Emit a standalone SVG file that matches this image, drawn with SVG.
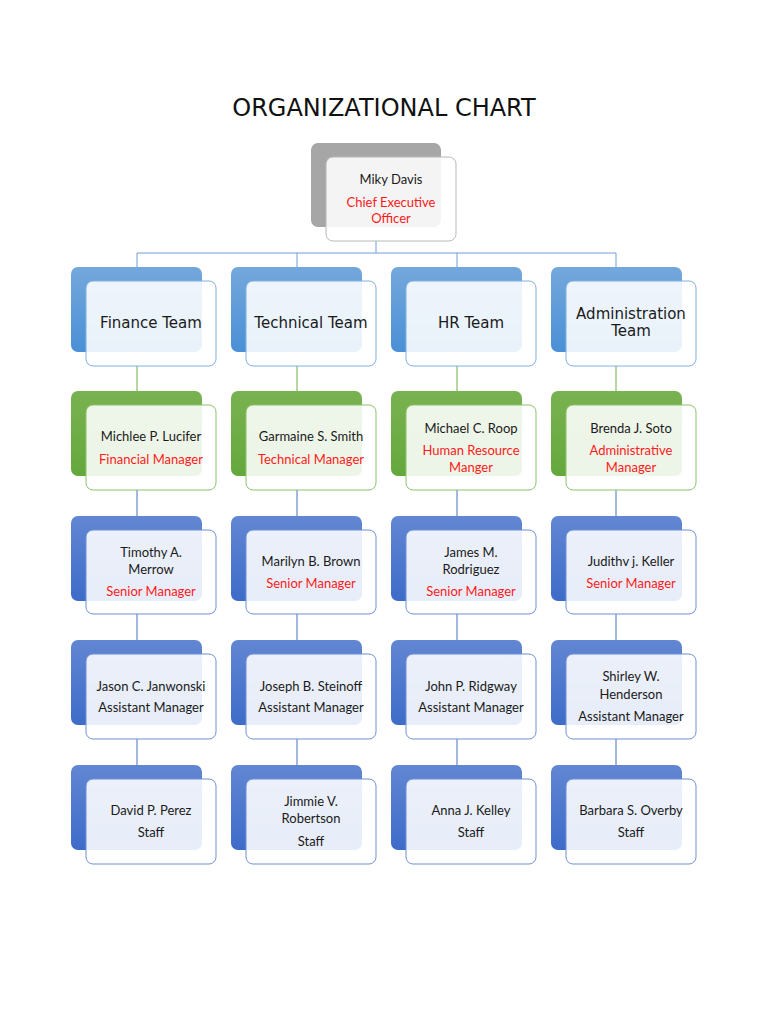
<svg xmlns="http://www.w3.org/2000/svg" width="768" height="1024" viewBox="0 0 768 1024">
<defs>
<linearGradient id="gT" x1="0" y1="0" x2="0" y2="1"><stop offset="0" stop-color="#74a8dc"/><stop offset="1" stop-color="#4a90d6"/></linearGradient>
<linearGradient id="gG" x1="0" y1="0" x2="0" y2="1"><stop offset="0" stop-color="#79b251"/><stop offset="1" stop-color="#64a83c"/></linearGradient>
<linearGradient id="gB" x1="0" y1="0" x2="0" y2="1"><stop offset="0" stop-color="#6286d2"/><stop offset="1" stop-color="#3d6cc9"/></linearGradient>
<style>
.bk{stroke:none}
.fr{fill:#ffffff;fill-opacity:0.88;stroke-width:1}
.t{font-family:Lato,"Liberation Sans",sans-serif;font-size:13px;fill:#1a1a1a;text-anchor:middle}
.r{fill:#ff1a1a}
.h{font-family:"DejaVu Sans",sans-serif;font-size:15px;fill:#1a1a1a;text-anchor:middle}
.c{fill:none;stroke-width:1}
</style>
</defs>
<rect width="768" height="1024" fill="#fff"/>
<text x="384" y="116" font-family="DejaVu Sans,sans-serif" font-size="24" text-anchor="middle" fill="#111">ORGANIZATIONAL CHART</text>
<g id="connectors">
<path class="c" stroke="#6f9fd8" d="M376 241V253M137 253H616M137 253V267M297 253V267M457 253V267M616 253V267"/>
<path class="c" stroke="#70ad47" d="M137 366V391M297 366V391M457 366V391M616 366V391"/>
<path class="c" stroke="#4472c4" d="M137 490V516M297 490V516M457 490V516M616 490V516M137 614V640M297 614V640M457 614V640M616 614V640M137 739V765M297 739V765M457 739V765M616 739V765"/>
</g>
<g id="ceo"><rect class="bk" x="311" y="143" width="130" height="84" rx="7" fill="#a6a6a6"/><rect class="fr" x="326" y="157" width="130" height="84" rx="7" stroke="#b8b8b8"/>
<text class="t" x="391" y="184">Miky Davis</text><text class="t r" x="391" y="207">Chief Executive</text><text class="t r" x="391" y="223">Officer</text></g>
<g id="team1"><rect class="bk" x="71" y="267" width="131" height="85" rx="7" fill="url(#gT)"/><rect class="fr" x="86" y="281" width="130" height="85" rx="7" stroke="#7fb0e0"/><text class="h" x="151" y="328">Finance Team</text></g>
<g id="team2"><rect class="bk" x="231" y="267" width="131" height="85" rx="7" fill="url(#gT)"/><rect class="fr" x="246" y="281" width="130" height="85" rx="7" stroke="#7fb0e0"/><text class="h" x="311" y="328">Technical Team</text></g>
<g id="team3"><rect class="bk" x="391" y="267" width="131" height="85" rx="7" fill="url(#gT)"/><rect class="fr" x="406" y="281" width="130" height="85" rx="7" stroke="#7fb0e0"/><text class="h" x="471" y="328">HR Team</text></g>
<g id="team4"><rect class="bk" x="551" y="267" width="131" height="85" rx="7" fill="url(#gT)"/><rect class="fr" x="566" y="281" width="130" height="85" rx="7" stroke="#7fb0e0"/><text class="h" x="631" y="319">Administration</text><text class="h" x="631" y="336">Team</text></g>
<g id="mgr1"><rect class="bk" x="71" y="391" width="131" height="85" rx="7" fill="url(#gG)"/><rect class="fr" x="86" y="405" width="130" height="85" rx="7" stroke="#8cc26a"/><text class="t" x="151" y="441">Michlee P. Lucifer</text><text class="t r" x="151" y="464">Financial Manager</text></g>
<g id="mgr2"><rect class="bk" x="231" y="391" width="131" height="85" rx="7" fill="url(#gG)"/><rect class="fr" x="246" y="405" width="130" height="85" rx="7" stroke="#8cc26a"/><text class="t" x="311" y="441">Garmaine S. Smith</text><text class="t r" x="311" y="464">Technical Manager</text></g>
<g id="mgr3"><rect class="bk" x="391" y="391" width="131" height="85" rx="7" fill="url(#gG)"/><rect class="fr" x="406" y="405" width="130" height="85" rx="7" stroke="#8cc26a"/><text class="t" x="471" y="433">Michael C. Roop</text><text class="t r" x="471" y="455">Human Resource</text><text class="t r" x="471" y="472">Manger</text></g>
<g id="mgr4"><rect class="bk" x="551" y="391" width="131" height="85" rx="7" fill="url(#gG)"/><rect class="fr" x="566" y="405" width="130" height="85" rx="7" stroke="#8cc26a"/><text class="t" x="631" y="433">Brenda  J. Soto</text><text class="t r" x="631" y="455">Administrative</text><text class="t r" x="631" y="472">Manager</text></g>
<g id="sm1"><rect class="bk" x="71" y="516" width="131" height="85" rx="7" fill="url(#gB)"/><rect class="fr" x="86" y="530" width="130" height="84" rx="7" stroke="#6f90d4"/><text class="t" x="151" y="557">Timothy A.</text><text class="t" x="151" y="574">Merrow</text><text class="t r" x="151" y="596">Senior Manager</text></g>
<g id="sm2"><rect class="bk" x="231" y="516" width="131" height="85" rx="7" fill="url(#gB)"/><rect class="fr" x="246" y="530" width="130" height="84" rx="7" stroke="#6f90d4"/><text class="t" x="311" y="566">Marilyn B. Brown</text><text class="t r" x="311" y="588">Senior Manager</text></g>
<g id="sm3"><rect class="bk" x="391" y="516" width="131" height="85" rx="7" fill="url(#gB)"/><rect class="fr" x="406" y="530" width="130" height="84" rx="7" stroke="#6f90d4"/><text class="t" x="471" y="557">James  M.</text><text class="t" x="471" y="574">Rodriguez</text><text class="t r" x="471" y="596">Senior Manager</text></g>
<g id="sm4"><rect class="bk" x="551" y="516" width="131" height="85" rx="7" fill="url(#gB)"/><rect class="fr" x="566" y="530" width="130" height="84" rx="7" stroke="#6f90d4"/><text class="t" x="631" y="566">Judithv j. Keller</text><text class="t r" x="631" y="588">Senior Manager</text></g>
<g id="am1"><rect class="bk" x="71" y="640" width="131" height="85" rx="7" fill="url(#gB)"/><rect class="fr" x="86" y="654" width="130" height="85" rx="7" stroke="#6f90d4"/><text class="t" x="151" y="691">Jason C. Janwonski</text><text class="t" x="151" y="712">Assistant Manager</text></g>
<g id="am2"><rect class="bk" x="231" y="640" width="131" height="85" rx="7" fill="url(#gB)"/><rect class="fr" x="246" y="654" width="130" height="85" rx="7" stroke="#6f90d4"/><text class="t" x="311" y="691">Joseph B. Steinoff</text><text class="t" x="311" y="712">Assistant Manager</text></g>
<g id="am3"><rect class="bk" x="391" y="640" width="131" height="85" rx="7" fill="url(#gB)"/><rect class="fr" x="406" y="654" width="130" height="85" rx="7" stroke="#6f90d4"/><text class="t" x="471" y="691">John P.  Ridgway</text><text class="t" x="471" y="712">Assistant Manager</text></g>
<g id="am4"><rect class="bk" x="551" y="640" width="131" height="85" rx="7" fill="url(#gB)"/><rect class="fr" x="566" y="654" width="130" height="85" rx="7" stroke="#6f90d4"/><text class="t" x="631" y="681">Shirley W.</text><text class="t" x="631" y="699">Henderson</text><text class="t" x="631" y="721">Assistant Manager</text></g>
<g id="st1"><rect class="bk" x="71" y="765" width="131" height="85" rx="7" fill="url(#gB)"/><rect class="fr" x="86" y="779" width="130" height="85" rx="7" stroke="#6f90d4"/><text class="t" x="151" y="815">David  P. Perez</text><text class="t" x="151" y="837">Staff</text></g>
<g id="st2"><rect class="bk" x="231" y="765" width="131" height="85" rx="7" fill="url(#gB)"/><rect class="fr" x="246" y="779" width="130" height="85" rx="7" stroke="#6f90d4"/><text class="t" x="311" y="806">Jimmie V.</text><text class="t" x="311" y="823">Robertson</text><text class="t" x="311" y="846">Staff</text></g>
<g id="st3"><rect class="bk" x="391" y="765" width="131" height="85" rx="7" fill="url(#gB)"/><rect class="fr" x="406" y="779" width="130" height="85" rx="7" stroke="#6f90d4"/><text class="t" x="471" y="815">Anna J. Kelley</text><text class="t" x="471" y="837">Staff</text></g>
<g id="st4"><rect class="bk" x="551" y="765" width="131" height="85" rx="7" fill="url(#gB)"/><rect class="fr" x="566" y="779" width="130" height="85" rx="7" stroke="#6f90d4"/><text class="t" x="631" y="815">Barbara S. Overby</text><text class="t" x="631" y="837">Staff</text></g>
</svg>
